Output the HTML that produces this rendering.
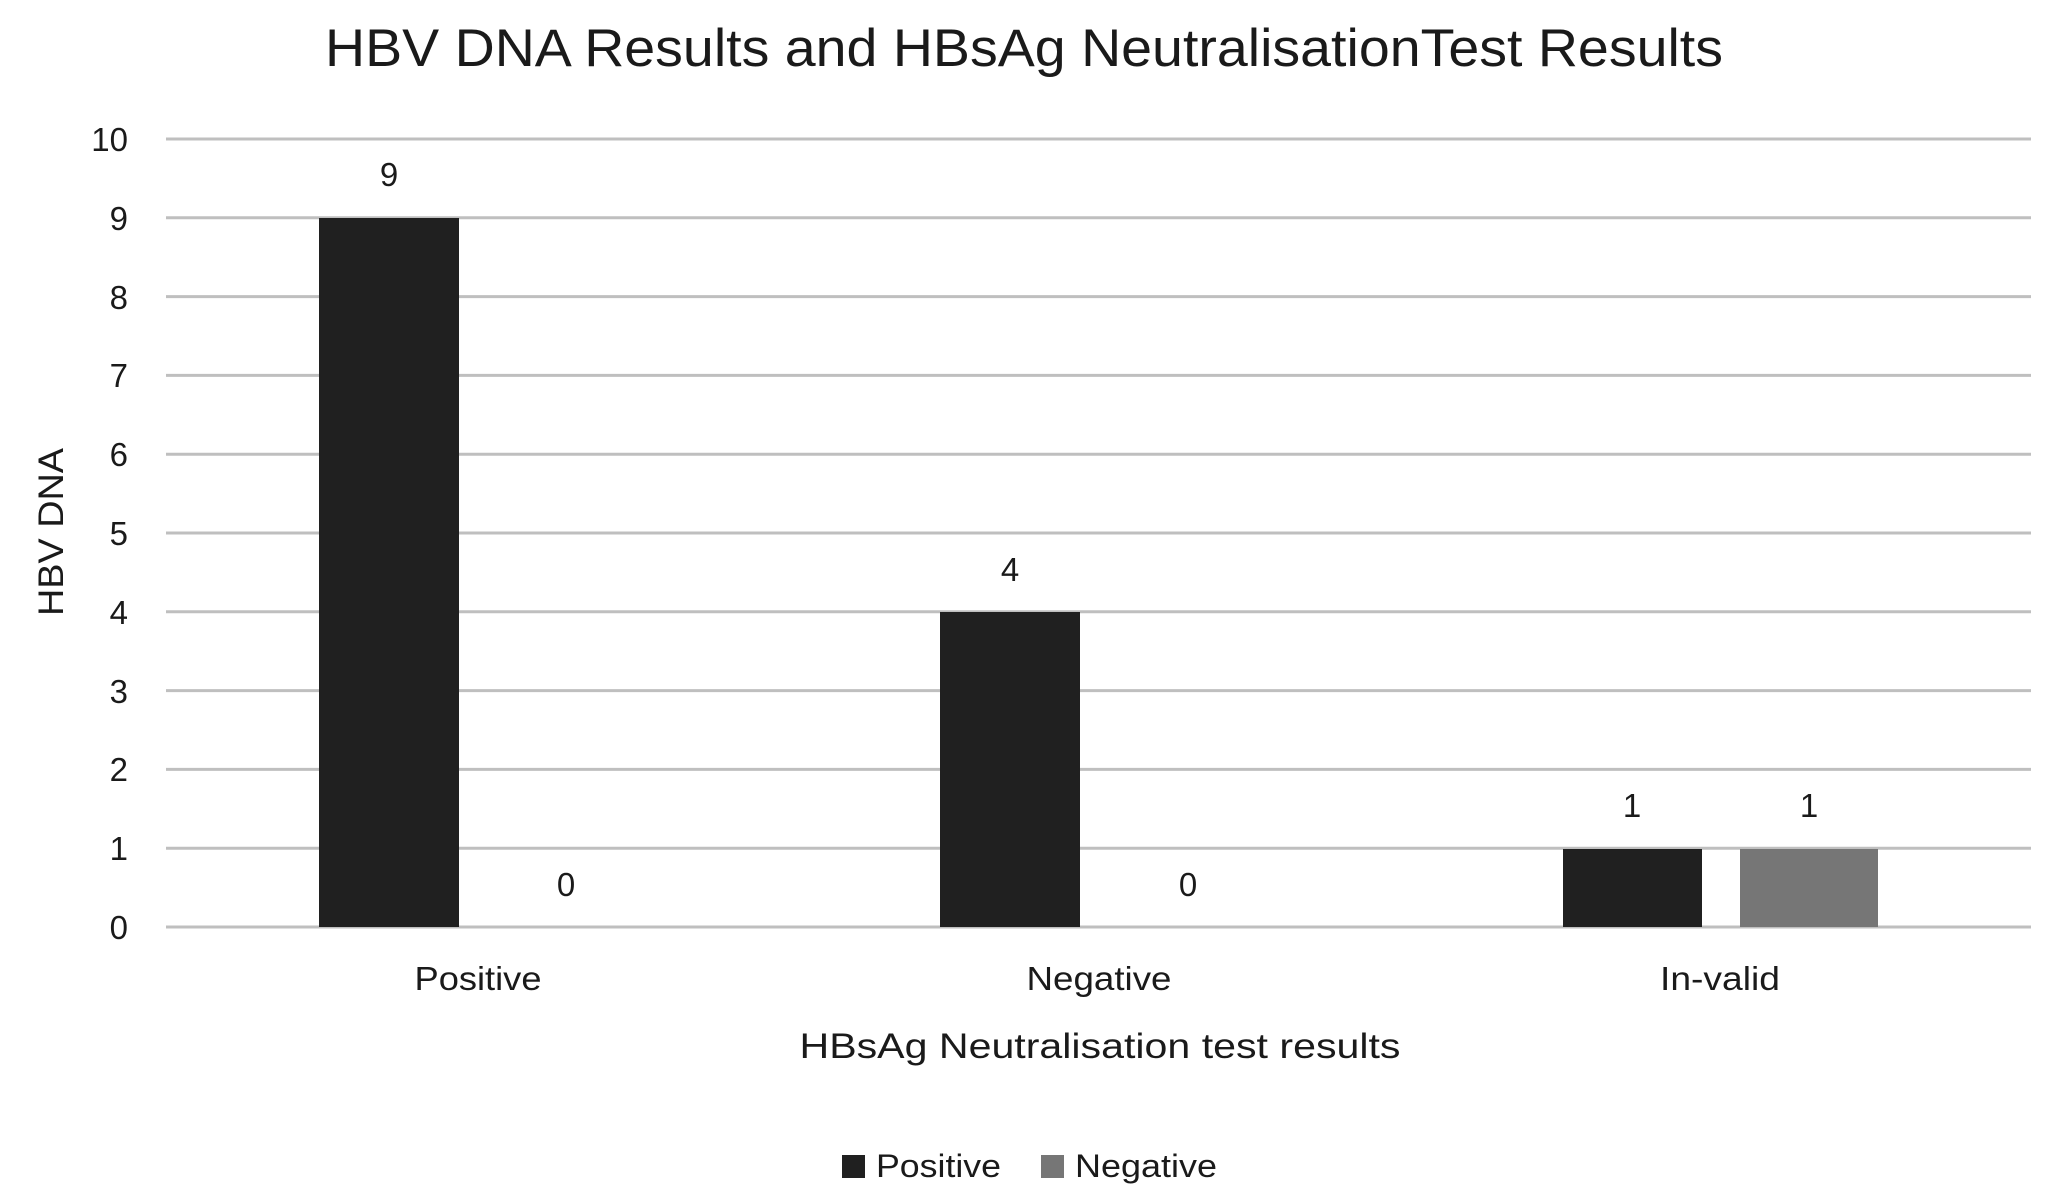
<!DOCTYPE html>
<html><head><meta charset="utf-8"><style>body{margin:0;background:#fff}svg{display:block}</style></head>
<body>
<svg width="2048" height="1194" viewBox="0 0 2048 1194" xmlns="http://www.w3.org/2000/svg" font-family="Liberation Sans, sans-serif" fill="#1a1a1a">
<rect width="2048" height="1194" fill="#fff"/>
<text x="325" y="66" font-size="53" textLength="1398" lengthAdjust="spacingAndGlyphs">HBV DNA Results and HBsAg NeutralisationTest Results</text>
<g stroke="#bfbfbf" stroke-width="3">
<line x1="166" x2="2031" y1="139" y2="139"/><line x1="166" x2="2031" y1="217.8" y2="217.8"/>
<line x1="166" x2="2031" y1="296.6" y2="296.6"/><line x1="166" x2="2031" y1="375.4" y2="375.4"/>
<line x1="166" x2="2031" y1="454.2" y2="454.2"/><line x1="166" x2="2031" y1="533" y2="533"/>
<line x1="166" x2="2031" y1="611.8" y2="611.8"/><line x1="166" x2="2031" y1="690.6" y2="690.6"/>
<line x1="166" x2="2031" y1="769.4" y2="769.4"/><line x1="166" x2="2031" y1="848.2" y2="848.2"/>
<line x1="166" x2="2031" y1="927" y2="927"/>
</g>
<g font-size="33" text-anchor="end">
<text x="128" y="151">10</text><text x="128" y="230">9</text><text x="128" y="309">8</text>
<text x="128" y="387">7</text><text x="128" y="466">6</text><text x="128" y="545">5</text>
<text x="128" y="624">4</text><text x="128" y="703">3</text><text x="128" y="781">2</text>
<text x="128" y="860">1</text><text x="128" y="939">0</text>
</g>
<rect x="319" y="218" width="140" height="709" fill="#202020"/>
<rect x="940" y="612" width="140" height="315" fill="#202020"/>
<rect x="1563" y="849" width="139" height="78" fill="#202020"/>
<rect x="1740" y="849" width="138" height="78" fill="#767676"/>
<g font-size="33" text-anchor="middle">
<text x="389" y="186">9</text><text x="566" y="896">0</text>
<text x="1010" y="581">4</text><text x="1188" y="896">0</text>
<text x="1632" y="817">1</text><text x="1809" y="817">1</text>
<text x="478" y="990" textLength="127" lengthAdjust="spacingAndGlyphs">Positive</text>
<text x="1099" y="990" textLength="145" lengthAdjust="spacingAndGlyphs">Negative</text>
<text x="1720" y="990" textLength="120" lengthAdjust="spacingAndGlyphs">In-valid</text>
<text x="1100" y="1058" font-size="35" textLength="601" lengthAdjust="spacingAndGlyphs">HBsAg Neutralisation test results</text>
</g>
<text transform="translate(63,532) rotate(-90)" font-size="35" text-anchor="middle" textLength="168" lengthAdjust="spacingAndGlyphs">HBV DNA</text>
<rect x="842" y="1155" width="23" height="23" fill="#202020"/>
<text x="876" y="1177" font-size="32" textLength="125" lengthAdjust="spacingAndGlyphs">Positive</text>
<rect x="1041" y="1155" width="23" height="23" fill="#767676"/>
<text x="1075" y="1177" font-size="32" textLength="142" lengthAdjust="spacingAndGlyphs">Negative</text>
</svg>
</body></html>
